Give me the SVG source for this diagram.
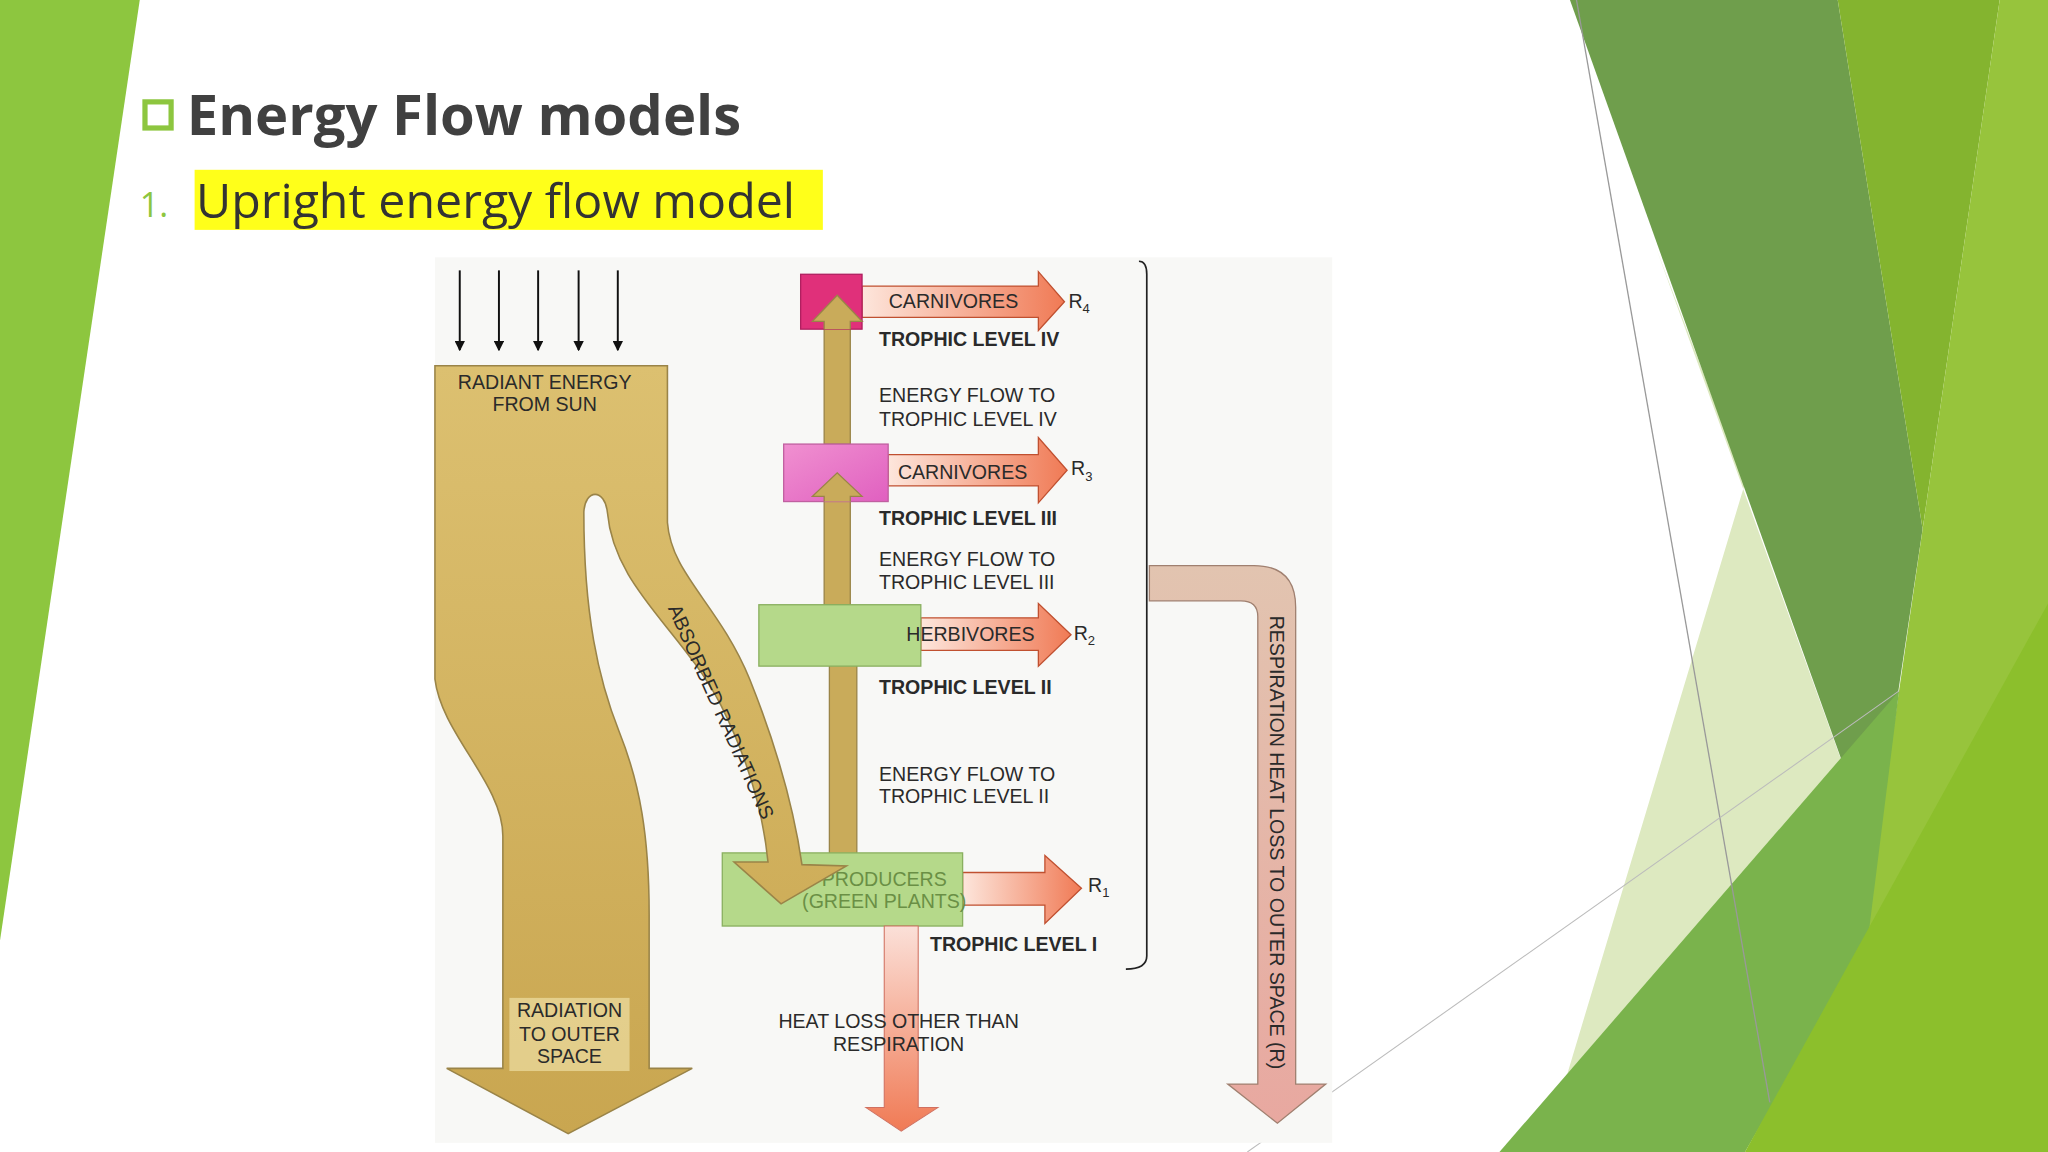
<svg xmlns="http://www.w3.org/2000/svg" width="2048" height="1152" viewBox="0 0 2048 1152">
<defs>
<style>
.lbl{font-family:"Liberation Sans",Arial,sans-serif;font-size:15px;fill:#2a2a2a;text-anchor:middle}
.lft{text-anchor:start}
.b{font-weight:bold}
</style>
<linearGradient id="tan" x1="0" y1="0" x2="0" y2="1"><stop offset="0" stop-color="#dcc070"/><stop offset="1" stop-color="#c9a650"/></linearGradient>
<linearGradient id="red" x1="0" y1="0" x2="1" y2="0"><stop offset="0" stop-color="#fde6dc"/><stop offset="1" stop-color="#f07a55"/></linearGradient>
<linearGradient id="redv" x1="0" y1="0" x2="0" y2="1"><stop offset="0" stop-color="#fbe0d8"/><stop offset="1" stop-color="#f07a55"/></linearGradient>
<linearGradient id="resp" x1="0" y1="0" x2="0" y2="1"><stop offset="0" stop-color="#e2c4b0"/><stop offset="1" stop-color="#e8a8a0"/></linearGradient>
<linearGradient id="mag" x1="0" y1="0" x2="1" y2="1"><stop offset="0" stop-color="#f090d0"/><stop offset="1" stop-color="#e060c0"/></linearGradient>
<marker id="ah" markerWidth="8" markerHeight="8" refX="7" refY="4" orient="auto" markerUnits="userSpaceOnUse"><path d="M0,0 L8,4 L0,8 Z" fill="#111"/></marker>
</defs>
<rect width="2048" height="1152" fill="#ffffff"/>
<g transform="scale(1.306122)">
<g id="background">
<polygon points="0,0 107,0 0,720" fill="#8dc63f"/>
<polygon points="1268,190 1435,652 1300,740 1200,822 1336,370" fill="#dde9c0"/>
<polygon points="1202,0 1407,0 1472,405 1435,652" fill="#6f9e4c"/>
<polygon points="1407,0 1531,0 1472,405" fill="#84b42f"/>
<polygon points="1531,0 1568,0 1568,882 1403,882 1427,714" fill="#97c43c"/>
<polygon points="1148,882 1454,529 1430,720 1336,882" fill="#7ab34c"/>
<polygon points="1336,882 1568,462 1568,882" fill="#8cbf2c"/>
<line x1="1207" y1="0" x2="1355" y2="844" stroke="#999" stroke-width="1"/>
<line x1="955" y1="882" x2="1454" y2="529" stroke="#bbb" stroke-width="0.8"/>
</g>
<g id="title">
<rect x="111" y="78" width="20" height="20" fill="none" stroke="#8dc63f" stroke-width="4"/>
<text x="143" y="103" font-family="'Open Sans',sans-serif" font-weight="bold" font-size="43" fill="#404040">Energy Flow models</text>
<text x="107" y="166" font-family="'Open Sans',sans-serif" font-size="26" fill="#8dc63f">1.</text>
<rect x="149" y="130" width="481" height="46" fill="#ffff1a"/>
<text x="150" y="167" font-family="'Open Sans',sans-serif" font-size="37" fill="#333">Upright energy flow model</text>
</g>
<rect x="333" y="197" width="687" height="678" fill="#f8f8f6"/>
<g id="sun">
<g stroke="#111" stroke-width="1.5" marker-end="url(#ah)">
<line x1="352" y1="207" x2="352" y2="268"/><line x1="382" y1="207" x2="382" y2="268"/><line x1="412" y1="207" x2="412" y2="268"/><line x1="443" y1="207" x2="443" y2="268"/><line x1="473" y1="207" x2="473" y2="268"/>
</g>
</g>
<g id="flow">
<rect x="635" y="509" width="21" height="146" fill="#c9ab5a" stroke="#9a8448"/>
<path d="M631,463 L631,380 L622,380 L641,362 L660,380 L651,380 L651,463 Z" fill="#c9ab5a" stroke="#9a8448"/>
<path d="M631,340 L631,246 L622,246 L641,226 L660,246 L651,246 L651,340 Z" fill="#c9ab5a" stroke="#9a8448"/>
</g>
<g id="producers">
<path d="M737,668 L800,668 L800,655 L828,680 L800,707 L800,693 L737,693 Z" fill="url(#red)" stroke="#c05030"/>
<rect x="553" y="653" width="184" height="56" fill="#b5d98a" stroke="#8ab060"/>
<text class="lbl" x="677" y="678" style="fill:#6a8f45">PRODUCERS</text>
<text class="lbl" x="677" y="695" style="fill:#6a8f45">(GREEN PLANTS)</text>
<text class="lbl lft" x="833" y="683">R<tspan font-size="10" dy="4">1</tspan></text>
<text class="lbl lft b" x="712" y="728">TROPHIC LEVEL I</text>
</g>
<g id="heatloss">
<path d="M677,709 L703,709 L703,848 L718,848 L690,866 L663,848 L677,848 Z" fill="url(#redv)" stroke="#d07060" stroke-width="0.8"/>
<text class="lbl" x="688" y="787">HEAT LOSS OTHER THAN</text>
<text class="lbl" x="688" y="805">RESPIRATION</text>
</g>
<g id="herbivores">
<path d="M705,473 L795,473 L795,462 L820,486 L795,510 L795,498 L705,498 Z" fill="url(#red)" stroke="#c05030"/>
<rect x="581" y="463" width="124" height="47" fill="#b5d98a" stroke="#8ab060"/>
<text class="lbl" x="743" y="491">HERBIVORES</text>
<text class="lbl lft" x="822" y="490">R<tspan font-size="10" dy="4">2</tspan></text>
<text class="lbl lft b" x="673" y="531">TROPHIC LEVEL II</text>
<text class="lbl lft" x="673" y="598">ENERGY FLOW TO</text>
<text class="lbl lft" x="673" y="615">TROPHIC LEVEL II</text>
</g>
<g id="carnivores3">
<path d="M680,348 L795,348 L795,335 L817,360 L795,385 L795,372 L680,372 Z" fill="url(#red)" stroke="#c05030"/>
<rect x="600" y="340" width="80" height="44" fill="url(#mag)" stroke="#c060a0"/>
<path d="M631,384 L631,380 L622,380 L641,362 L660,380 L651,380 L651,384" fill="#c9ab5a" stroke="#9a8448"/>
<text class="lbl" x="737" y="367">CARNIVORES</text>
<text class="lbl lft" x="820" y="364">R<tspan font-size="10" dy="4">3</tspan></text>
<text class="lbl lft b" x="673" y="402">TROPHIC LEVEL III</text>
<text class="lbl lft" x="673" y="433">ENERGY FLOW TO</text>
<text class="lbl lft" x="673" y="451">TROPHIC LEVEL III</text>
</g>
<g id="carnivores4">
<path d="M660,219 L795,219 L795,208 L815,231 L795,253 L795,243 L660,243 Z" fill="url(#red)" stroke="#c05030"/>
<rect x="613" y="210" width="47" height="42" fill="#e0307a" stroke="#b02060"/>
<path d="M631,252 L631,246 L622,246 L641,226 L660,246 L651,246 L651,252" fill="#c9ab5a" stroke="#9a8448"/>
<text class="lbl" x="730" y="236">CARNIVORES</text>
<text class="lbl lft" x="818" y="236">R<tspan font-size="10" dy="4">4</tspan></text>
<text class="lbl lft b" x="673" y="265">TROPHIC LEVEL  IV</text>
<text class="lbl lft" x="673" y="308">ENERGY FLOW TO</text>
<text class="lbl lft" x="673" y="326">TROPHIC LEVEL IV</text>
</g>
<g id="radiant">
<path d="M333,280 L511,280 L511,400 C514,440 550,462 574,520 C594,570 608,620 614,662 L648,663 L598,692 L562,660 L588,660 C584,620 572,580 552,540 C522,482 470,450 465,392 C463,374 448,374 447,392 C447,470 458,520 474,560 C490,600 497,640 497,700 L497,818 L530,818 L435,868 L342,818 L385,818 L385,640 C385,600 338,562 333,520 Z" fill="url(#tan)" stroke="#9a8448" stroke-width="1.2"/>
<text class="lbl" x="417" y="298">RADIANT ENERGY</text>
<text class="lbl" x="417" y="315">FROM SUN</text>
<rect x="390" y="764" width="92" height="56" fill="#f4e8b0" opacity="0.6"/>
<text class="lbl" x="436" y="779">RADIATION</text>
<text class="lbl" x="436" y="797">TO OUTER</text>
<text class="lbl" x="436" y="814">SPACE</text>
<text class="lbl" transform="translate(552,545) rotate(66)" x="0" y="5">ABSORBED RADIATIONS</text>
</g>
<g id="respiration">
<path d="M872,200 Q878,200 878,210 L878,732 Q878,742 862,742" fill="none" stroke="#222" stroke-width="1.3"/>
<path d="M880,433 L960,433 Q992,433 992,465 L992,830 L1015,830 L978,860 L940,830 L963,830 L963,472 Q963,460 950,460 L880,460 Z" fill="url(#resp)" stroke="#a08070"/>
<text class="lbl" transform="translate(972,645) rotate(90)" x="0" y="0">RESPIRATION HEAT LOSS TO OUTER SPACE (R)</text>
</g>
</g>
</svg>
